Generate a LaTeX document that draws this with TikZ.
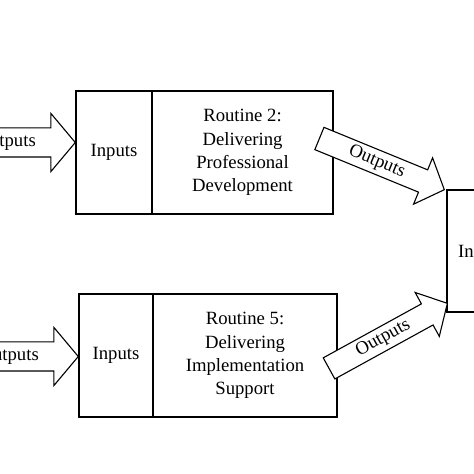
\documentclass[tikz,border=0pt]{standalone}
\usepackage{fontspec}
\setmainfont{Liberation Serif}
\usetikzlibrary{positioning,shapes.arrows,calc}

\begin{document}
\begin{tikzpicture}[x=1pt,y=1pt,
	box/.style={draw, line width=1.1pt, minimum height=123pt, outer sep=0pt, align=center, inner sep=2pt},
	flow/.style={single arrow, draw, fill=white, line width=1.1pt, text height=12pt, text depth=4pt, inner xsep=2pt},
	every node/.style={font=\fontsize{18.7}{23.3}\selectfont}]
						\useasboundingbox (0,0) rectangle (474,474);
						\clip (0,0) rectangle (474,474);
						\node[box, minimum width=76pt] (in2) at (114,321.5) {Inputs};
						\node[box, minimum width=181pt, right=0pt of in2] (r2) {Routine 2:\\Delivering\\Professional\\Development};
						\node[box, minimum width=74pt] (in5) at (116,118.5) {Inputs};
						\node[box, minimum width=184pt, right=0pt of in5] (r5) {Routine 5:\\Delivering\\Implementation\\Support};
						\node[box, minimum width=100pt, minimum height=122pt] (imp) at (497,223) {};
						\node[anchor=west, inner sep=0pt] (implabel) at ($(imp.west)+(11,0)$) {In};
						\node[flow, anchor=tip, minimum height=126pt, inner ysep=6pt, single arrow head extend=14.5pt, single arrow tip angle=100] (o1) at ($(in2.west)+(0,10)$) {Outputs};
						\node[flow, anchor=tip, minimum height=126pt, inner ysep=6pt, single arrow head extend=14.5pt, single arrow tip angle=100] (o4) at ($(in5.west)+(0,-1)$) {Outputs};
						\node[flow, anchor=tip, rotate=-22.3, minimum height=135pt, inner ysep=3.5pt, single arrow head extend=13pt, single arrow tip angle=95] (o2) at ($(imp.north west)+(-2,0)$) {Outputs};
						\node[flow, anchor=tip, rotate=28.8, minimum height=135pt, inner ysep=3.5pt, single arrow head extend=13pt, single arrow tip angle=95] (o5) at ($(imp.south west)+(1,9)$) {Outputs};
					\end{tikzpicture}
\end{document}
